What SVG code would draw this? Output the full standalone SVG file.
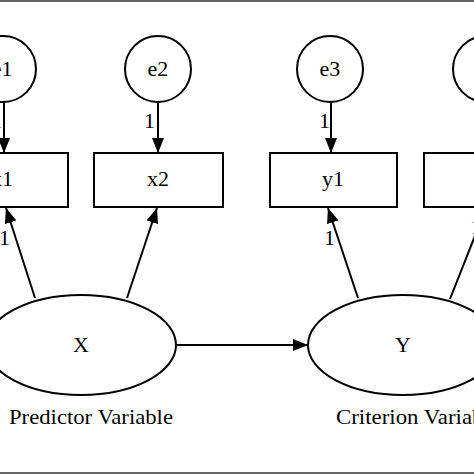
<svg xmlns="http://www.w3.org/2000/svg" width="474" height="474" viewBox="0 0 474 474">
<defs>
<marker id="ah" markerUnits="userSpaceOnUse" markerWidth="16" markerHeight="12" refX="15" refY="6" orient="auto">
<path d="M0,0 L15,6 L0,12 z" fill="#000"/>
</marker>
<style>
.n{fill:#fff;stroke:#000;stroke-width:2}
.t{font-family:"Liberation Serif","Times New Roman",serif;font-size:22px;fill:#000;text-anchor:middle}
.c line{stroke:#000;stroke-width:2}
.l{font-family:"Liberation Serif","Times New Roman",serif;font-size:22px;fill:#000}
</style>
</defs>
<rect x="0" y="0" width="474" height="474" fill="#fff"/>
<rect x="0" y="0" width="474" height="2" fill="#666"/>
<rect x="0" y="472" width="474" height="2" fill="#666"/>

<g id="connectors" class="c">
<line x1="4" y1="102" x2="4" y2="153" marker-end="url(#ah)"/>
<line x1="158" y1="102" x2="158" y2="153" marker-end="url(#ah)"/>
<line x1="331" y1="102" x2="331" y2="153" marker-end="url(#ah)"/>
<line x1="487" y1="102" x2="487" y2="153" marker-end="url(#ah)"/>
<line x1="35" y1="298" x2="6" y2="208" marker-end="url(#ah)"/>
<line x1="127" y1="298" x2="157" y2="208" marker-end="url(#ah)"/>
<line x1="358" y1="298" x2="328" y2="208" marker-end="url(#ah)"/>
<line x1="450" y1="299" x2="486" y2="208" marker-end="url(#ah)"/>
<line x1="176" y1="345" x2="308" y2="345" marker-end="url(#ah)"/>
</g>

<g id="path-labels">
<text class="l" x="-9" y="128">1</text>
<text class="l" x="144" y="128">1</text>
<text class="l" x="319" y="128">1</text>
<text class="l" x="-1" y="245">1</text>
<text class="l" x="324" y="245">1</text>
<text class="l" x="471" y="234">1</text>
</g>

<g id="e1"><circle class="n" cx="3" cy="69" r="33"/><text class="t" x="2" y="76">e1</text></g>
<g id="e2"><circle class="n" cx="158" cy="69" r="33"/><text class="t" x="158" y="76">e2</text></g>
<g id="e3"><circle class="n" cx="330" cy="69" r="33"/><text class="t" x="330" y="76">e3</text></g>
<g id="e4"><circle class="n" cx="486" cy="69" r="33"/></g>

<g id="x1"><rect class="n" x="-61" y="153" width="129" height="54"/><text class="t" x="2" y="186">x1</text></g>
<g id="x2"><rect class="n" x="94" y="153" width="129" height="54"/><text class="t" x="158" y="186">x2</text></g>
<g id="y1"><rect class="n" x="270" y="153" width="127" height="54"/><text class="t" x="333" y="186">y1</text></g>
<g id="y2"><rect class="n" x="424" y="153" width="129" height="54"/></g>

<g id="X"><ellipse class="n" cx="81" cy="345" rx="95" ry="50"/><text class="t" x="81" y="352">X</text></g>
<g id="Y"><ellipse class="n" cx="403" cy="345" rx="95" ry="50"/><text class="t" x="403" y="352">Y</text></g>

<text class="l" x="9" y="424" textLength="164" lengthAdjust="spacingAndGlyphs">Predictor Variable</text>
<text class="l" x="336" y="424" textLength="164" lengthAdjust="spacingAndGlyphs">Criterion Variable</text>
</svg>
